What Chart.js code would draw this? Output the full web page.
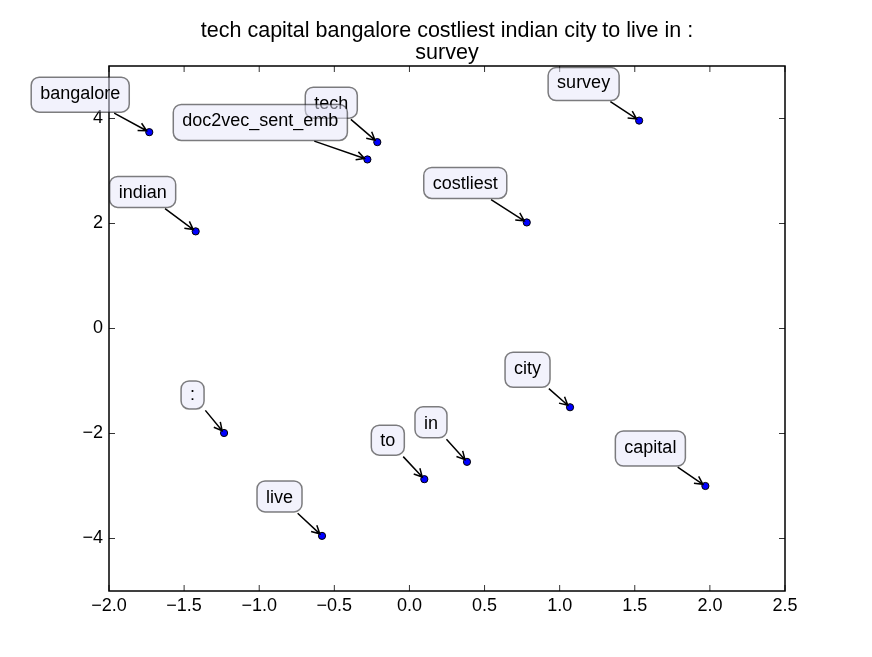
<!DOCTYPE html>
<html>
<head>
<meta charset="utf-8">
<script src="https://cdn.jsdelivr.net/npm/chart.js@4.4.0/dist/chart.umd.min.js"></script>
<style>
  html, body { margin: 0; padding: 0; background: #fff; }
  #wrap { width: 872px; height: 657px; position: relative; }
</style>
</head>
<body>
<div id="wrap"><canvas id="plot"></canvas></div>
<script>
const titleLines = ["tech capital bangalore costliest indian city to live in :", "survey"];
const words = ["tech", "capital", "bangalore", "costliest", "indian", "city", "to", "live", "in", ":", "survey", "doc2vec_sent_emb"];
const xValues = [-0.214, 1.970, -1.732, 0.781, -1.423, 1.069, 0.099, -0.582, 0.383, -1.234, 1.529, -0.280];
const yValues = [3.55, -3.00, 3.74, 2.02, 1.85, -1.50, -2.87, -3.95, -2.54, -1.99, 3.96, 3.22];
const xTicks = [-2.0, -1.5, -1.0, -0.5, 0.0, 0.5, 1.0, 1.5, 2.0, 2.5];
const yTicks = [-4, -2, 0, 2, 4];

const FONT = "'Liberation Sans', Arial, Helvetica, sans-serif";
const minus = (s) => s.replace("-", "\u2212");

// frame, inward ticks and title (matplotlib classic look)
const framePlugin = {
  id: "frame",
  beforeDatasetsDraw(chart) {
    const { ctx, chartArea: a, scales } = chart;
    ctx.save();
    ctx.strokeStyle = "#000";
    ctx.lineWidth = 0.8;
    ctx.beginPath();
    xTicks.forEach((v) => {
      const px = scales.x.getPixelForValue(v);
      ctx.moveTo(px, a.bottom);
      ctx.lineTo(px, a.bottom - 6);
      ctx.moveTo(px, a.top);
      ctx.lineTo(px, a.top + 6);
    });
    yTicks.forEach((v) => {
      const py = scales.y.getPixelForValue(v);
      ctx.moveTo(a.left, py);
      ctx.lineTo(a.left + 6, py);
      ctx.moveTo(a.right, py);
      ctx.lineTo(a.right - 6, py);
    });
    ctx.stroke();
    ctx.lineWidth = 1.5;
    ctx.strokeRect(a.left, a.top, a.right - a.left, a.bottom - a.top);

    ctx.fillStyle = "#000";
    ctx.font = "21.5px " + FONT;
    ctx.textAlign = "center";
    ctx.textBaseline = "alphabetic";
    const cx = (a.left + a.right) / 2;
    titleLines.forEach((t, i) => ctx.fillText(t, cx, a.top - 29 + i * 22));
    ctx.restore();
  },
};

// word labels in rounded boxes with arrows to their points
const notePlugin = {
  id: "notes",
  afterDatasetsDraw(chart) {
    const { ctx, scales } = chart;
    ctx.save();
    ctx.font = "18px " + FONT;
    words.forEach((w, i) => {
      const px = scales.x.getPixelForValue(xValues[i]);
      const py = scales.y.getPixelForValue(yValues[i]);
      const m = ctx.measureText(w);
      const asc = m.actualBoundingBoxAscent;
      const desc = Math.max(m.actualBoundingBoxDescent, 0);
      const pad = 9;
      const textRight = px - 29;
      const baseline = py - 33;
      const bx = textRight - m.width - pad;
      const by = baseline - asc - pad;
      const bw = m.width + 2 * pad;
      const bh = asc + desc + 2 * pad;

      // arrow from box centre towards the point, clipped at the box
      const cx = bx + bw / 2;
      const cy = by + bh / 2;
      const dx = px - cx;
      const dy = py - cy;
      const t = Math.min(bw / 2 / Math.abs(dx), bh / 2 / Math.abs(dy));
      const len = Math.hypot(dx, dy);
      const ux = dx / len;
      const uy = dy / len;
      const sx = cx + dx * t + ux * 2;
      const sy = cy + dy * t + uy * 2;
      const ex = px - ux * 3;
      const ey = py - uy * 3;
      const hl = 8;
      const hw = 4.2;
      ctx.strokeStyle = "#000";
      ctx.lineWidth = 1.5;
      ctx.beginPath();
      ctx.moveTo(sx, sy);
      ctx.lineTo(ex, ey);
      ctx.moveTo(ex - ux * hl - uy * hw, ey - uy * hl + ux * hw);
      ctx.lineTo(ex, ey);
      ctx.lineTo(ex - ux * hl + uy * hw, ey - uy * hl - ux * hw);
      ctx.stroke();

      ctx.beginPath();
      ctx.roundRect(bx, by, bw, bh, 8);
      ctx.fillStyle = "rgba(230,230,250,0.5)";
      ctx.fill();
      ctx.strokeStyle = "rgba(0,0,0,0.5)";
      ctx.lineWidth = 1.5;
      ctx.stroke();

      ctx.fillStyle = "#000";
      ctx.textAlign = "right";
      ctx.textBaseline = "alphabetic";
      ctx.fillText(w, textRight, baseline);
    });
    ctx.restore();
  },
};

new Chart(document.getElementById("plot"), {
  type: "scatter",
  data: {
    datasets: [
      {
        data: xValues.map((x, i) => ({ x, y: yValues[i] })),
        backgroundColor: "#0000ff",
        borderColor: "#000",
        borderWidth: 1,
        pointRadius: 3.6,
        pointHoverRadius: 3.6,
      },
    ],
  },
  options: {
    responsive: true,
    maintainAspectRatio: false,
    animation: false,
    events: [],
    layout: { padding: { top: 66, right: 87, bottom: 0, left: 0 } },
    plugins: {
      legend: { display: false },
      title: { display: false },
      tooltip: { enabled: false },
    },
    scales: {
      x: {
        type: "linear",
        min: -2,
        max: 2.5,
        afterBuildTicks: (s) => { s.ticks = xTicks.map((v) => ({ value: v })); },
        afterFit: (s) => { s.height = 66; },
        grid: { display: false, drawTicks: false },
        border: { display: false },
        ticks: {
          padding: 4,
          color: "#000",
          autoSkip: false,
          maxRotation: 0,
          font: { size: 18, family: FONT },
          callback: (v) => minus(Number(v).toFixed(1)),
        },
      },
      y: {
        type: "linear",
        min: -5,
        max: 5,
        afterBuildTicks: (s) => { s.ticks = yTicks.map((v) => ({ value: v })); },
        afterFit: (s) => { s.width = 109; },
        grid: { display: false, drawTicks: false },
        border: { display: false },
        ticks: {
          padding: 6,
          color: "#000",
          font: { size: 18, family: FONT },
          callback: (v) => minus(String(v)),
        },
      },
    },
  },
  plugins: [framePlugin, notePlugin],
});
</script>
</body>
</html>
